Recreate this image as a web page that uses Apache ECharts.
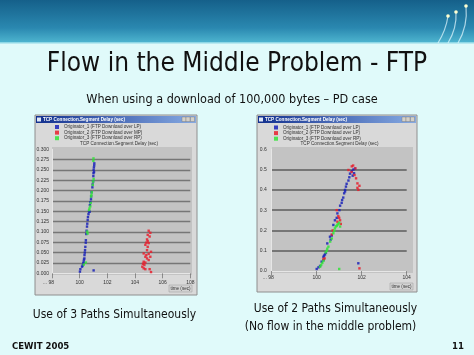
<!DOCTYPE html>
<html><head><meta charset="utf-8">
<script src="https://cdn.jsdelivr.net/npm/echarts@6/dist/echarts.min.js"></script>
<style>html,body{margin:0;padding:0;background:#e0fafa;}#c{width:474px;height:355px;}</style>
</head><body><div id="c"></div>
<script>
// ---- data ----
const slideTitle = 'Flow in the Middle Problem - FTP';
const slideSubtitle = 'When using a download of 100,000 bytes \u2013 PD case';
const captionLeft = 'Use of 3 Paths Simultaneously';
const captionRight1 = 'Use of 2 Paths Simultaneously';
const captionRight2 = '(No flow in the middle problem)';
const footerLeft = 'CEWIT 2005';
const footerRight = '11';
const windowTitle = 'TCP Connection.Segment Delay (sec)';
const plotTitle = 'TCP Connection.Segment Delay (sec)';
const xAxisName = 'time (sec)';

const leftNames = ['Originator_1 (FTP Download over LP)', 'Originator_2 (FTP Download over MP)', 'Originator_3 (FTP Download over RP)'];
const rightNames = ['Originator_1 (FTP Download over LP)', 'Originator_2 (FTP Download over LP)', 'Originator_3 (FTP Download over RP)'];
const seriesColors = ['#1a22b8', '#e8202e', '#33e43a'];

const leftXTicks = [98, 100, 102, 104, 106, 108];
const leftYTicks = [0, 0.025, 0.05, 0.075, 0.1, 0.125, 0.15, 0.175, 0.2, 0.225, 0.25, 0.275, 0.3];
const rightXTicks = [98, 100, 102, 104];
const rightYTicks = [0, 0.1, 0.2, 0.3, 0.4, 0.5, 0.6];

const leftBlue = [[100.02,0.004],[100.05,0.010],[100.17,0.016],[100.22,0.019],[100.26,0.024],[100.29,0.028],[100.31,0.033],[100.34,0.036],[100.35,0.044],[100.37,0.050],[100.39,0.056],[100.41,0.064],[100.44,0.074],[100.45,0.080],[100.48,0.095],[100.50,0.103],[100.53,0.113],[100.55,0.120],[100.58,0.129],[100.60,0.136],[100.64,0.143],[100.68,0.149],[100.72,0.149],[100.74,0.165],[100.77,0.172],[100.82,0.179],[100.83,0.186],[100.86,0.196],[100.92,0.208],[100.94,0.215],[100.97,0.222],[100.99,0.235],[101.00,0.242],[101.01,0.250],[101.03,0.256],[101.05,0.261],[101.06,0.266],[101.04,0.245],[101.01,0.007]];
const leftRed = [[104.99,0.103],[105.11,0.098],[104.92,0.093],[105.06,0.089],[104.87,0.082],[104.82,0.074],[104.99,0.073],[104.75,0.069],[104.92,0.064],[104.87,0.056],[105.16,0.052],[104.63,0.048],[104.82,0.044],[104.99,0.047],[104.75,0.040],[105.11,0.040],[104.87,0.036],[104.99,0.032],[104.63,0.028],[104.75,0.026],[104.58,0.023],[104.68,0.020],[104.53,0.016],[104.63,0.012],[104.75,0.010],[105.06,0.010],[105.16,0.003],[104.92,0.078]];
const leftGreen = [[101.00,0.278],[100.99,0.272],[101.01,0.228],[100.97,0.222],[100.95,0.214],[100.88,0.196],[100.85,0.190],[100.83,0.186],[100.80,0.170],[100.77,0.162],[100.71,0.157],[100.68,0.153],[100.55,0.101],[100.57,0.096],[100.30,0.021],[100.45,0.026]];

const rightBlue = [[100.00,0.010],[100.08,0.018],[100.15,0.025],[100.22,0.046],[100.30,0.054],[100.30,0.070],[100.33,0.076],[100.37,0.082],[100.41,0.090],[100.47,0.136],[100.59,0.169],[100.62,0.155],[100.67,0.175],[100.74,0.227],[100.81,0.250],[100.89,0.262],[100.92,0.284],[101.01,0.300],[101.04,0.322],[101.11,0.336],[101.13,0.350],[101.18,0.362],[101.22,0.383],[101.26,0.392],[101.26,0.400],[101.30,0.416],[101.33,0.430],[101.41,0.446],[101.45,0.462],[101.48,0.480],[101.56,0.492],[101.63,0.500],[101.66,0.482],[101.70,0.505],[101.60,0.470],[101.85,0.038]];
const rightRed = [[101.56,0.516],[101.62,0.520],[101.72,0.506],[101.68,0.473],[101.75,0.457],[101.81,0.432],[101.81,0.410],[101.85,0.400],[101.90,0.420],[101.41,0.498],[101.55,0.488],[101.00,0.262],[100.96,0.270],[100.92,0.243],[101.04,0.250],[100.89,0.300],[100.71,0.200],[100.67,0.180],[100.35,0.062],[100.30,0.058],[101.90,0.013],[101.07,0.232]];
const rightGreen = [[100.15,0.021],[100.20,0.030],[100.25,0.040],[100.40,0.092],[100.47,0.110],[100.52,0.120],[100.60,0.145],[100.67,0.160],[100.74,0.186],[100.78,0.198],[100.81,0.210],[100.85,0.220],[100.89,0.222],[100.92,0.228],[100.96,0.232],[101.00,0.238],[101.04,0.219],[101.00,0.010],[100.45,0.100],[100.30,0.050]];

// ---- chart ----
const FONT = "'DejaVu Sans Condensed', 'DejaVu Sans', sans-serif";
const tiny = {fontSize: 5, color: '#333', fontFamily: 'Liberation Sans, Arial, sans-serif'};

function windowFrame(x, y, w, h, plot) {
  return [
    {type:'rect', z:-10, shape:{x:x, y:y, width:w, height:h}, style:{fill:'#d9d9d9', stroke:'#8e8e8e', lineWidth:1}},
    {type:'rect', z:-9, shape:{x:x+1, y:y+1, width:w-2, height:7}, style:{fill:new echarts.graphic.LinearGradient(0,0,1,0,[{offset:0,color:'#12308e'},{offset:1,color:'#86aae2'}])}},
    {type:'rect', z:-8, shape:{x:x+2, y:y+2.5, width:4, height:4}, style:{fill:'#dfe6f5'}},
    {type:'text', z:-8, style:{x:x+8, y:y+4.6, text:windowTitle, fill:'#fff', font:'bold 4.6px Liberation Sans, Arial', textVerticalAlign:'middle'}},
    {type:'rect', z:-8, shape:{x:x+w-15, y:y+2, width:4, height:4.5}, style:{fill:'#d4d0c8', stroke:'#777', lineWidth:0.4}},
    {type:'rect', z:-8, shape:{x:x+w-11, y:y+2, width:4, height:4.5}, style:{fill:'#d4d0c8', stroke:'#777', lineWidth:0.4}},
    {type:'rect', z:-8, shape:{x:x+w-6.5, y:y+2, width:4, height:4.5}, style:{fill:'#d4d0c8', stroke:'#777', lineWidth:0.4}},
    {type:'rect', z:-9, shape:plot, style:{fill:'#c3c3c3'}},
    {type:'text', z:-8, style:{x:plot.x+plot.width/2-3, y:plot.y-3, text:plotTitle, fill:'#333', font:'4.6px Liberation Sans, Arial', textAlign:'center', textVerticalAlign:'middle'}},
    {type:'rect', z:-8, shape:{x:plot.x+plot.width-23, y:plot.y+plot.height+10, width:23, height:7}, style:{fill:'#d4d4d4', stroke:'#9a9a9a', lineWidth:0.5}},
    {type:'text', z:-7, style:{x:plot.x+plot.width-11.5, y:plot.y+plot.height+13.5, text:xAxisName, fill:'#333', font:'4.6px Liberation Sans, Arial', textAlign:'center', textVerticalAlign:'middle'}}
  ];
}

const graphics = [
  {type:'rect', z:-20, shape:{x:0, y:0, width:474, height:43}, style:{fill:new echarts.graphic.LinearGradient(0,0,0,1,[{offset:0,color:'#15608a'},{offset:0.65,color:'#2a88b0'},{offset:1,color:'#4fb6d0'}])}},
  {type:'rect', z:-19, shape:{x:0, y:42, width:474, height:1.5}, style:{fill:'#8fd8e6'}},
  {type:'bezierCurve', z:-18, shape:{x1:438, y1:43, x2:448, y2:16, cpx1:446, cpy1:30}, style:{stroke:'rgba(230,250,255,0.7)', lineWidth:1.2, fill:null}},
  {type:'bezierCurve', z:-18, shape:{x1:448, y1:43, x2:456, y2:12, cpx1:457, cpy1:28}, style:{stroke:'rgba(230,250,255,0.7)', lineWidth:1.2, fill:null}},
  {type:'bezierCurve', z:-18, shape:{x1:458, y1:43, x2:466, y2:6, cpx1:468, cpy1:26}, style:{stroke:'rgba(230,250,255,0.7)', lineWidth:1.2, fill:null}},
  {type:'circle', z:-17, shape:{cx:448, cy:16, r:1.8}, style:{fill:'#ffffd0'}},
  {type:'circle', z:-17, shape:{cx:456, cy:12, r:1.8}, style:{fill:'#ffffd0'}},
  {type:'circle', z:-17, shape:{cx:466, cy:6, r:1.8}, style:{fill:'#ffffd0'}},
  {type:'text', z:-5, style:{x:237, y:64, text:slideTitle, fill:'#111', font:'26px ' + FONT, textAlign:'center', textVerticalAlign:'middle'}},
  {type:'text', z:-5, style:{x:232, y:99.5, text:slideSubtitle, fill:'#111', font:'12.5px ' + FONT, textAlign:'center', textVerticalAlign:'middle'}},
  {type:'text', z:-5, style:{x:114.5, y:314.5, text:captionLeft, fill:'#111', font:'12px ' + FONT, textAlign:'center', textVerticalAlign:'middle'}},
  {type:'text', z:-5, style:{x:335.5, y:308.5, text:captionRight1, fill:'#111', font:'12px ' + FONT, textAlign:'center', textVerticalAlign:'middle'}},
  {type:'text', z:-5, style:{x:330.5, y:326.5, text:captionRight2, fill:'#111', font:'12px ' + FONT, textAlign:'center', textVerticalAlign:'middle'}},
  {type:'text', z:-5, style:{x:12, y:346.5, text:footerLeft, fill:'#111', font:'bold 9.5px ' + FONT, textAlign:'left', textVerticalAlign:'middle'}},
  {type:'text', z:-5, style:{x:464, y:346.5, text:footerRight, fill:'#111', font:'bold 9.5px ' + FONT, textAlign:'right', textVerticalAlign:'middle'}}
].concat(windowFrame(35, 115, 162, 180, {x:52, y:147, width:140, height:128}))
 .concat(windowFrame(257, 115, 160, 177, {x:272, y:147, width:141, height:126}));

function xAxis(grid, ticks, margin, tickLen) {
  return {
    type:'value', gridIndex:grid, min:ticks[0], max:ticks[ticks.length-1], interval:ticks[1]-ticks[0],
    axisLine:{show:true, lineStyle:{color:'#e6e6e6', width:1}},
    axisTick:{show:true, length:tickLen, lineStyle:{color:'#555', width:0.6}},
    axisLabel:Object.assign({margin:margin, formatter:function(v){return v===ticks[0] ? '{p|... ' + v + '}' : String(v);}, rich:{p:{fontSize:5, color:'#333', padding:[0,7,0,0]}}}, tiny),
    splitLine:{show:false}
  };
}
function yAxis(grid, ticks, digits) {
  return {
    type:'value', gridIndex:grid, min:ticks[0], max:ticks[ticks.length-1], interval:ticks[1]-ticks[0],
    axisLine:{show:true, lineStyle:{color:'#e6e6e6', width:1}},
    axisTick:{show:false},
    axisLabel:Object.assign({margin:digits === 3 ? 3 : 5, formatter:function(v){return v.toFixed(digits);}}, tiny),
    splitLine:{show:true, showMinLine:false, showMaxLine:false, lineStyle:{color:'#767676', width:digits === 3 ? 1.4 : 1.8}}
  };
}
function scatter(name, data, color, xi, yi) {
  return {type:'scatter', name:name, xAxisIndex:xi, yAxisIndex:yi, data:data, symbol:'rect', symbolSize:2.4, itemStyle:{color:color, opacity:0.85}, silent:true, animation:false};
}
function legend(names, left, top) {
  return {data:names, left:left, top:top, orient:'vertical', padding:0, itemWidth:4, itemHeight:4, itemGap:0.6, icon:'rect', selectedMode:false,
    textStyle:{fontSize:4.6, color:'#333', lineHeight:4.2, fontFamily:'Liberation Sans, Arial, sans-serif'}};
}

const chart = echarts.init(document.getElementById('c'), null, {renderer:'canvas'});
chart.setOption({
  backgroundColor:'#e0fafa',
  animation:false,
  graphic:{elements:graphics},
  legend:[legend(leftNames, 55, 124.5), legend(rightNames, 274, 125)],
  grid:[
    {left:52, top:149.3, width:138.3, height:124},
    {left:271.7, top:149.3, width:135, height:121.7}
  ],
  xAxis:[xAxis(0, leftXTicks, 7, 5), xAxis(1, rightXTicks, 4, 4)],
  yAxis:[yAxis(0, leftYTicks, 3), yAxis(1, rightYTicks, 1)],
  series:[
    scatter(leftNames[0], leftBlue, seriesColors[0], 0, 0),
    scatter(leftNames[1], leftRed, seriesColors[1], 0, 0),
    scatter(leftNames[2], leftGreen, seriesColors[2], 0, 0),
    scatter(rightNames[0], rightBlue, seriesColors[0], 1, 1),
    scatter(rightNames[1], rightRed, seriesColors[1], 1, 1),
    scatter(rightNames[2], rightGreen, seriesColors[2], 1, 1)
  ]
});
</script></body></html>
